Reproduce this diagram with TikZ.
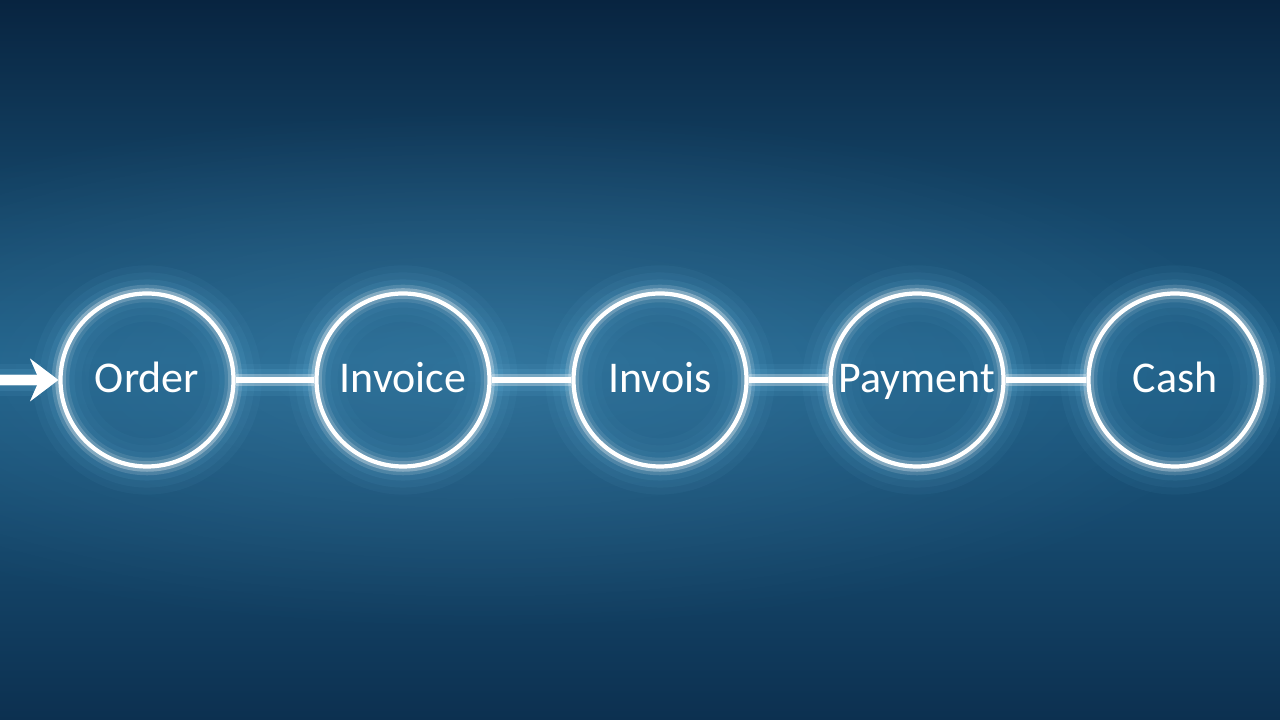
\documentclass[tikz,border=0pt]{standalone}
\usepackage{fontspec}
\setmainfont{Carlito}
\usetikzlibrary{arrows.meta,fadings}

\definecolor{bgtop}{RGB}{8,36,64}
\definecolor{bgmid}{RGB}{30,94,134}
\definecolor{bgbot}{RGB}{12,48,80}
\definecolor{glowblue}{RGB}{120,200,240}

\tikzfading[name=softglow, inner color=transparent!0, outer color=transparent!100]

\tikzset{
  ring/.style={circle, minimum size=1.73cm, inner sep=0pt, draw=white, line width=1.2pt,
    fill=bgmid!85!glowblue, fill opacity=0.30, text opacity=1,
    text=white, font=\fontsize{12.5}{15}\selectfont,
    text height=1.9ex, text depth=0.35ex,
    preaction={draw=glowblue, line width=16pt, draw opacity=0.05},
    preaction={draw=glowblue, line width=12pt, draw opacity=0.06},
    preaction={draw=glowblue, line width=8pt, draw opacity=0.09},
    preaction={draw=white, line width=5pt, draw opacity=0.14},
    preaction={draw=white, line width=3pt, draw opacity=0.30}},
  link/.style={draw=white, line width=1.5pt,
    preaction={draw=glowblue, line width=9pt, draw opacity=0.08},
    preaction={draw=glowblue, line width=6pt, draw opacity=0.12},
    preaction={draw=white, line width=3.5pt, draw opacity=0.30}}
}

\begin{document}
\begin{tikzpicture}
  \useasboundingbox (0,0) rectangle (12.8,7.2);
  \shade[top color=bgtop, bottom color=bgbot, middle color=bgmid] (0,0) rectangle (12.8,7.2);
  \fill[glowblue, path fading=softglow, opacity=0.22] (4.8,3.5) ellipse (8 and 2.6);

  \node[ring] (order)   at (1.47,3.40) {Order};
  \node[ring] (invoice) at (4.03,3.40) {Invoice};
  \node[ring] (invois)  at (6.60,3.40) {Invois};
  \node[ring] (payment) at (9.17,3.40) {Payment};
  \node[ring] (cash)    at (11.75,3.40) {Cash};
  \coordinate (start) at (0,3.40);

  \draw[link] (order) -- (invoice);
  \draw[link] (invoice) -- (invois);
  \draw[link] (invois) -- (payment);
  \draw[link] (payment) -- (cash);
  \draw[link, line width=3pt, -{Stealth[length=8pt,width=12pt]}] (start) -- (order);
\end{tikzpicture}
\end{document}
